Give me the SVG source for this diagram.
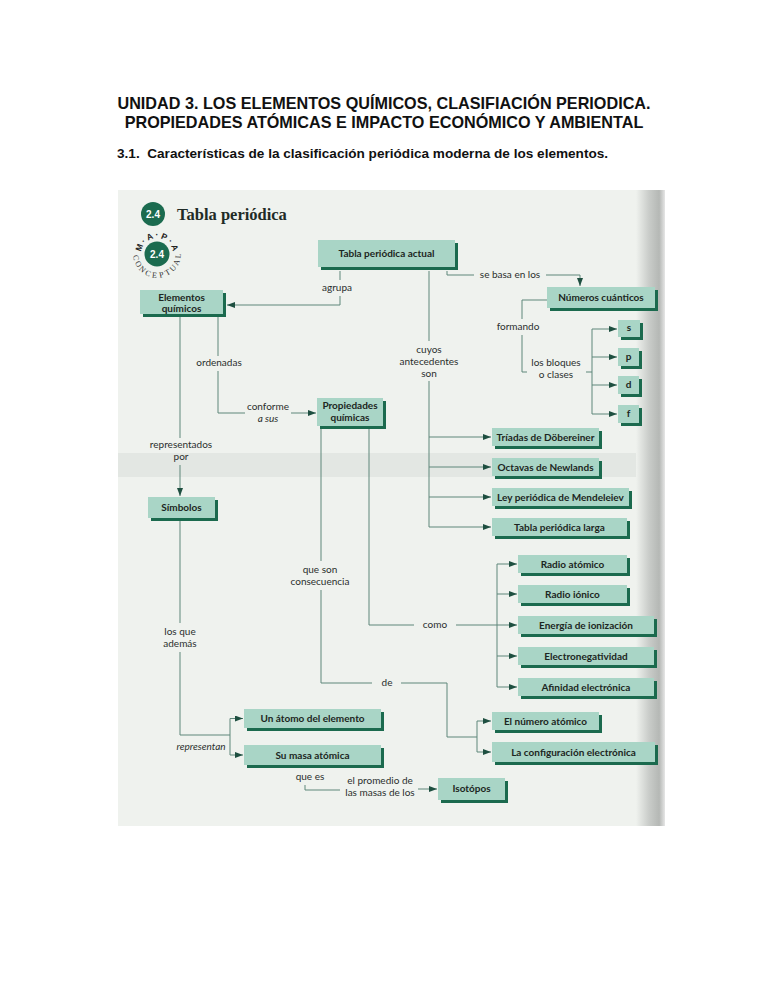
<svg xmlns="http://www.w3.org/2000/svg" width="768" height="994" viewBox="0 0 768 994">
<style>
.hd{font-family:"Liberation Sans",Arial,sans-serif;font-weight:bold;fill:#111;}
.bx{fill:#a9d5c6;}
.sh{fill:#1b6a4e;}
.bt{font-family:Lato,"Open Sans",sans-serif;font-weight:700;font-size:10px;fill:#1c2622;text-anchor:middle;}
.lb{font-family:Lato,"Open Sans",sans-serif;font-size:10px;fill:#2a2f2d;text-anchor:middle;}
.cn{fill:none;stroke:#5f877b;stroke-width:1;}
.ar{fill:none;stroke:#5f877b;stroke-width:1;marker-end:url(#ah);}
.bg{font-family:"Liberation Sans",Arial,sans-serif;font-weight:bold;fill:#fff;text-anchor:middle;}
.mp{font-family:"Liberation Sans",Arial,sans-serif;font-weight:bold;font-size:8.5px;fill:#222;text-anchor:middle;}
.cc{font-family:"Liberation Serif","Times New Roman",serif;font-size:8px;fill:#333;text-anchor:middle;}
</style>
<defs>
<marker id="ah" viewBox="0 0 8 6" refX="8" refY="3" markerWidth="8" markerHeight="6" markerUnits="userSpaceOnUse" orient="auto">
<path d="M0,0 L8,3 L0,6 z" fill="#1e4f40"/>
</marker>
<linearGradient id="edge" x1="0" y1="0" x2="1" y2="0">
<stop offset="0" stop-color="#eff2ee"/>
<stop offset="0.45" stop-color="#c9ccc9"/>
<stop offset="0.8" stop-color="#b5b8b5"/>
<stop offset="1" stop-color="#e6e6e6"/>
</linearGradient>
</defs>
<rect width="768" height="994" fill="#ffffff"/>
<text class="hd" x="384" y="109" font-size="16.2" text-anchor="middle">UNIDAD 3. LOS ELEMENTOS QUÍMICOS, CLASIFIACIÓN PERIODICA.</text>
<text class="hd" x="384" y="128" font-size="16.2" text-anchor="middle">PROPIEDADES ATÓMICAS E IMPACTO ECONÓMICO Y AMBIENTAL</text>
<text class="hd" x="117" y="158" font-size="13.6">3.1.&#160; Características de la clasificación periódica moderna de los elementos.</text>

<g id="scan">
<rect x="118" y="190" width="547" height="636" fill="#eff2ee"/>
<rect x="118" y="453" width="530" height="24" fill="#e3e7e3"/>
<rect x="636" y="190" width="29" height="636" fill="url(#edge)"/>
</g>

<g id="title">
<circle cx="153" cy="214" r="12" fill="#1b6b4f"/>
<text class="bg" x="153" y="218" font-size="10">2.4</text>
<text x="177" y="220" font-family="'Liberation Serif','Times New Roman',serif" font-weight="bold" font-size="16.5" fill="#1f2b26">Tabla periódica</text>
</g>
<g id="badge">
<circle cx="157" cy="254" r="12.5" fill="#1b6b4f"/>
<text class="bg" x="157" y="258" font-size="10">2.4</text>
<text class="mp" transform="translate(139.2,247.5) rotate(-70)" y="3">M</text>
<text class="mp" transform="translate(143.3,241) rotate(-46.7)" y="3">·</text>
<text class="mp" transform="translate(149.7,236.6) rotate(-23.3)" y="3">A</text>
<text class="mp" transform="translate(157,235) rotate(0)" y="3">·</text>
<text class="mp" transform="translate(164.3,236.6) rotate(23.3)" y="3">P</text>
<text class="mp" transform="translate(170.7,241) rotate(46.7)" y="3">·</text>
<text class="mp" transform="translate(174.8,247.5) rotate(70)" y="3">A</text>
<text class="cc" transform="translate(136.3,257.6) rotate(80)" y="2.8">C</text>
<text class="cc" transform="translate(138.5,264) rotate(61.7)" y="2.8">O</text>
<text class="cc" transform="translate(142.6,269.3) rotate(43.3)" y="2.8">N</text>
<text class="cc" transform="translate(148.1,273) rotate(25)" y="2.8">C</text>
<text class="cc" transform="translate(154.6,274.9) rotate(6.7)" y="2.8">E</text>
<text class="cc" transform="translate(161.3,274.6) rotate(-11.7)" y="2.8">P</text>
<text class="cc" transform="translate(167.5,272.2) rotate(-30)" y="2.8">T</text>
<text class="cc" transform="translate(172.7,268) rotate(-48.3)" y="2.8">U</text>
<text class="cc" transform="translate(176.3,262.3) rotate(-66.7)" y="2.8">A</text>
<text class="cc" transform="translate(177.9,255.8) rotate(-85)" y="2.8">L</text>
</g>

<g id="connectors">
<path class="cn" d="M340,271 V280"/>
<path class="ar" d="M340,296 V305 H227"/>
<path class="cn" d="M447,271 V275 H474"/>
<path class="ar" d="M546,275 H580 V286"/>
<path class="cn" d="M547,300 H522 V319"/>
<path class="cn" d="M522,335 V372 H527"/>
<path class="cn" d="M586,372 H592"/>
<path class="cn" d="M592,329 V414"/>
<path class="ar" d="M592,329 H617"/>
<path class="ar" d="M592,357 H617"/>
<path class="ar" d="M592,385 H617"/>
<path class="ar" d="M592,414 H617"/>
<path class="cn" d="M429,271 V341"/>
<path class="cn" d="M429,381 V527"/>
<path class="ar" d="M429,437 H491"/>
<path class="ar" d="M429,467 H491"/>
<path class="ar" d="M429,497 H491"/>
<path class="ar" d="M429,527 H491"/>
<path class="cn" d="M180,317 V438"/>
<path class="ar" d="M180,465 V496"/>
<path class="cn" d="M218,317 V356"/>
<path class="cn" d="M218,371 V413 H245"/>
<path class="ar" d="M291,413 H316"/>
<path class="cn" d="M321,429 V561"/>
<path class="cn" d="M321,590 V683 H372"/>
<path class="cn" d="M401,683 H447 V737 H477"/>
<path class="cn" d="M477,721 V752"/>
<path class="ar" d="M477,721 H491"/>
<path class="ar" d="M477,752 H491"/>
<path class="cn" d="M369,429 V625 H414"/>
<path class="ar" d="M456,625 H517"/>
<path class="cn" d="M497,564 V687"/>
<path class="ar" d="M497,564 H517"/>
<path class="ar" d="M497,594 H517"/>
<path class="ar" d="M497,656 H517"/>
<path class="ar" d="M497,687 H517"/>
<path class="cn" d="M180,519 V623"/>
<path class="cn" d="M180,652 V735 H230"/>
<path class="cn" d="M230,718.5 V755"/>
<path class="ar" d="M230,718.5 H243"/>
<path class="ar" d="M230,755 H243"/>
<path class="cn" d="M305,785 V790 H340"/>
<path class="ar" d="M418,789 H437"/>
</g>

<g id="labels">
<text class="lb" x="337" y="291">agrupa</text>
<text class="lb" x="510" y="278">se basa en los</text>
<text class="lb" x="518" y="330">formando</text>
<text class="lb" x="556" y="366">los bloques</text>
<text class="lb" x="556" y="377.5">o clases</text>
<text class="lb" x="429" y="353">cuyos</text>
<text class="lb" x="429" y="365">antecedentes</text>
<text class="lb" x="429" y="376.5">son</text>
<text class="lb" x="219" y="366">ordenadas</text>
<text class="lb" x="268" y="410">conforme</text>
<text class="lb" x="268" y="421.5" font-style="italic">a sus</text>
<text class="lb" x="181" y="448">representados</text>
<text class="lb" x="181" y="459.5">por</text>
<text class="lb" x="320" y="573">que son</text>
<text class="lb" x="320" y="584.5">consecuencia</text>
<text class="lb" x="435" y="628">como</text>
<text class="lb" x="387" y="686">de</text>
<text class="lb" x="180" y="635">los que</text>
<text class="lb" x="180" y="646.5">además</text>
<text class="lb" x="201" y="750" font-style="italic">representan</text>
<text class="lb" x="310" y="780">que es</text>
<text class="lb" x="380" y="784">el promedio de</text>
<text class="lb" x="380" y="795.5">las masas de los</text>
</g>

<g id="n-tpa"><rect class="sh" x="321" y="243" width="137" height="27"/><rect class="bx" x="318" y="240" width="137" height="27"/><text class="bt" x="386.5" y="257" font-size="10.5">Tabla periódica actual</text></g>
<g id="n-elem"><rect class="sh" x="143" y="293" width="83" height="24"/><rect class="bx" x="140" y="290" width="83" height="24"/><text class="bt" x="181.5" y="301">Elementos</text><text class="bt" x="181.5" y="312">químicos</text></g>
<g id="n-numq"><rect class="sh" x="550" y="290" width="108" height="21"/><rect class="bx" x="547" y="287" width="108" height="21"/><text class="bt" x="601" y="301">Números cuánticos</text></g>
<g id="n-s"><rect class="sh" x="621" y="323" width="22" height="17"/><rect class="bx" x="618" y="320" width="22" height="17"/><text class="bt" x="629" y="331">s</text></g>
<g id="n-p"><rect class="sh" x="621" y="351" width="21" height="18"/><rect class="bx" x="618" y="348" width="21" height="18"/><text class="bt" x="628.5" y="360">p</text></g>
<g id="n-d"><rect class="sh" x="621" y="379" width="21" height="18"/><rect class="bx" x="618" y="376" width="21" height="18"/><text class="bt" x="628.5" y="388">d</text></g>
<g id="n-f"><rect class="sh" x="621" y="408" width="21" height="18"/><rect class="bx" x="618" y="405" width="21" height="18"/><text class="bt" x="628.5" y="417">f</text></g>
<g id="n-prop"><rect class="sh" x="320" y="401" width="66" height="28"/><rect class="bx" x="317" y="398" width="66" height="28"/><text class="bt" x="350" y="409">Propiedades</text><text class="bt" x="350" y="421">químicas</text></g>
<g id="n-trid"><rect class="sh" x="495" y="431" width="107" height="18"/><rect class="bx" x="492" y="428" width="107" height="18"/><text class="bt" x="545.5" y="440.5">Tríadas de Döbereiner</text></g>
<g id="n-oct"><rect class="sh" x="495" y="461" width="107" height="18"/><rect class="bx" x="492" y="458" width="107" height="18"/><text class="bt" x="545.5" y="470.5">Octavas de Newlands</text></g>
<g id="n-ley"><rect class="sh" x="495" y="491" width="137" height="18"/><rect class="bx" x="492" y="488" width="137" height="18"/><text class="bt" x="560.5" y="500.5">Ley periódica de Mendeleiev</text></g>
<g id="n-tpl"><rect class="sh" x="495" y="521" width="135" height="18"/><rect class="bx" x="492" y="518" width="135" height="18"/><text class="bt" x="559.5" y="530.5">Tabla periódica larga</text></g>
<g id="n-sim"><rect class="sh" x="151" y="500" width="67" height="21"/><rect class="bx" x="148" y="497" width="67" height="21"/><text class="bt" x="181.5" y="511">Símbolos</text></g>
<g id="n-ra"><rect class="sh" x="521" y="558" width="109" height="18"/><rect class="bx" x="518" y="555" width="109" height="18"/><text class="bt" x="572.5" y="567.5">Radio atómico</text></g>
<g id="n-ri"><rect class="sh" x="521" y="588" width="109" height="18"/><rect class="bx" x="518" y="585" width="109" height="18"/><text class="bt" x="572.5" y="597.5">Radio iónico</text></g>
<g id="n-ei"><rect class="sh" x="521" y="619" width="136" height="18"/><rect class="bx" x="518" y="616" width="136" height="18"/><text class="bt" x="586" y="628.5">Energía de ionización</text></g>
<g id="n-en"><rect class="sh" x="521" y="650" width="136" height="18"/><rect class="bx" x="518" y="647" width="136" height="18"/><text class="bt" x="586" y="659.5">Electronegatividad</text></g>
<g id="n-ae"><rect class="sh" x="521" y="681" width="136" height="18"/><rect class="bx" x="518" y="678" width="136" height="18"/><text class="bt" x="586" y="690.5">Afinidad electrónica</text></g>
<g id="n-una"><rect class="sh" x="247" y="712" width="137" height="19"/><rect class="bx" x="244" y="709" width="137" height="19"/><text class="bt" x="312.5" y="722">Un átomo del elemento</text></g>
<g id="n-sma"><rect class="sh" x="247" y="748" width="137" height="20"/><rect class="bx" x="244" y="745" width="137" height="20"/><text class="bt" x="312.5" y="758.5">Su masa atómica</text></g>
<g id="n-nat"><rect class="sh" x="495" y="715" width="107" height="18"/><rect class="bx" x="492" y="712" width="107" height="18"/><text class="bt" x="545.5" y="724.5">El número atómico</text></g>
<g id="n-conf"><rect class="sh" x="495" y="745" width="163" height="20"/><rect class="bx" x="492" y="742" width="163" height="20"/><text class="bt" x="573.5" y="755.5">La configuración electrónica</text></g>
<g id="n-iso"><rect class="sh" x="441" y="781" width="67" height="22"/><rect class="bx" x="438" y="778" width="67" height="22"/><text class="bt" x="471.5" y="792">Isotópos</text></g>
</svg>
